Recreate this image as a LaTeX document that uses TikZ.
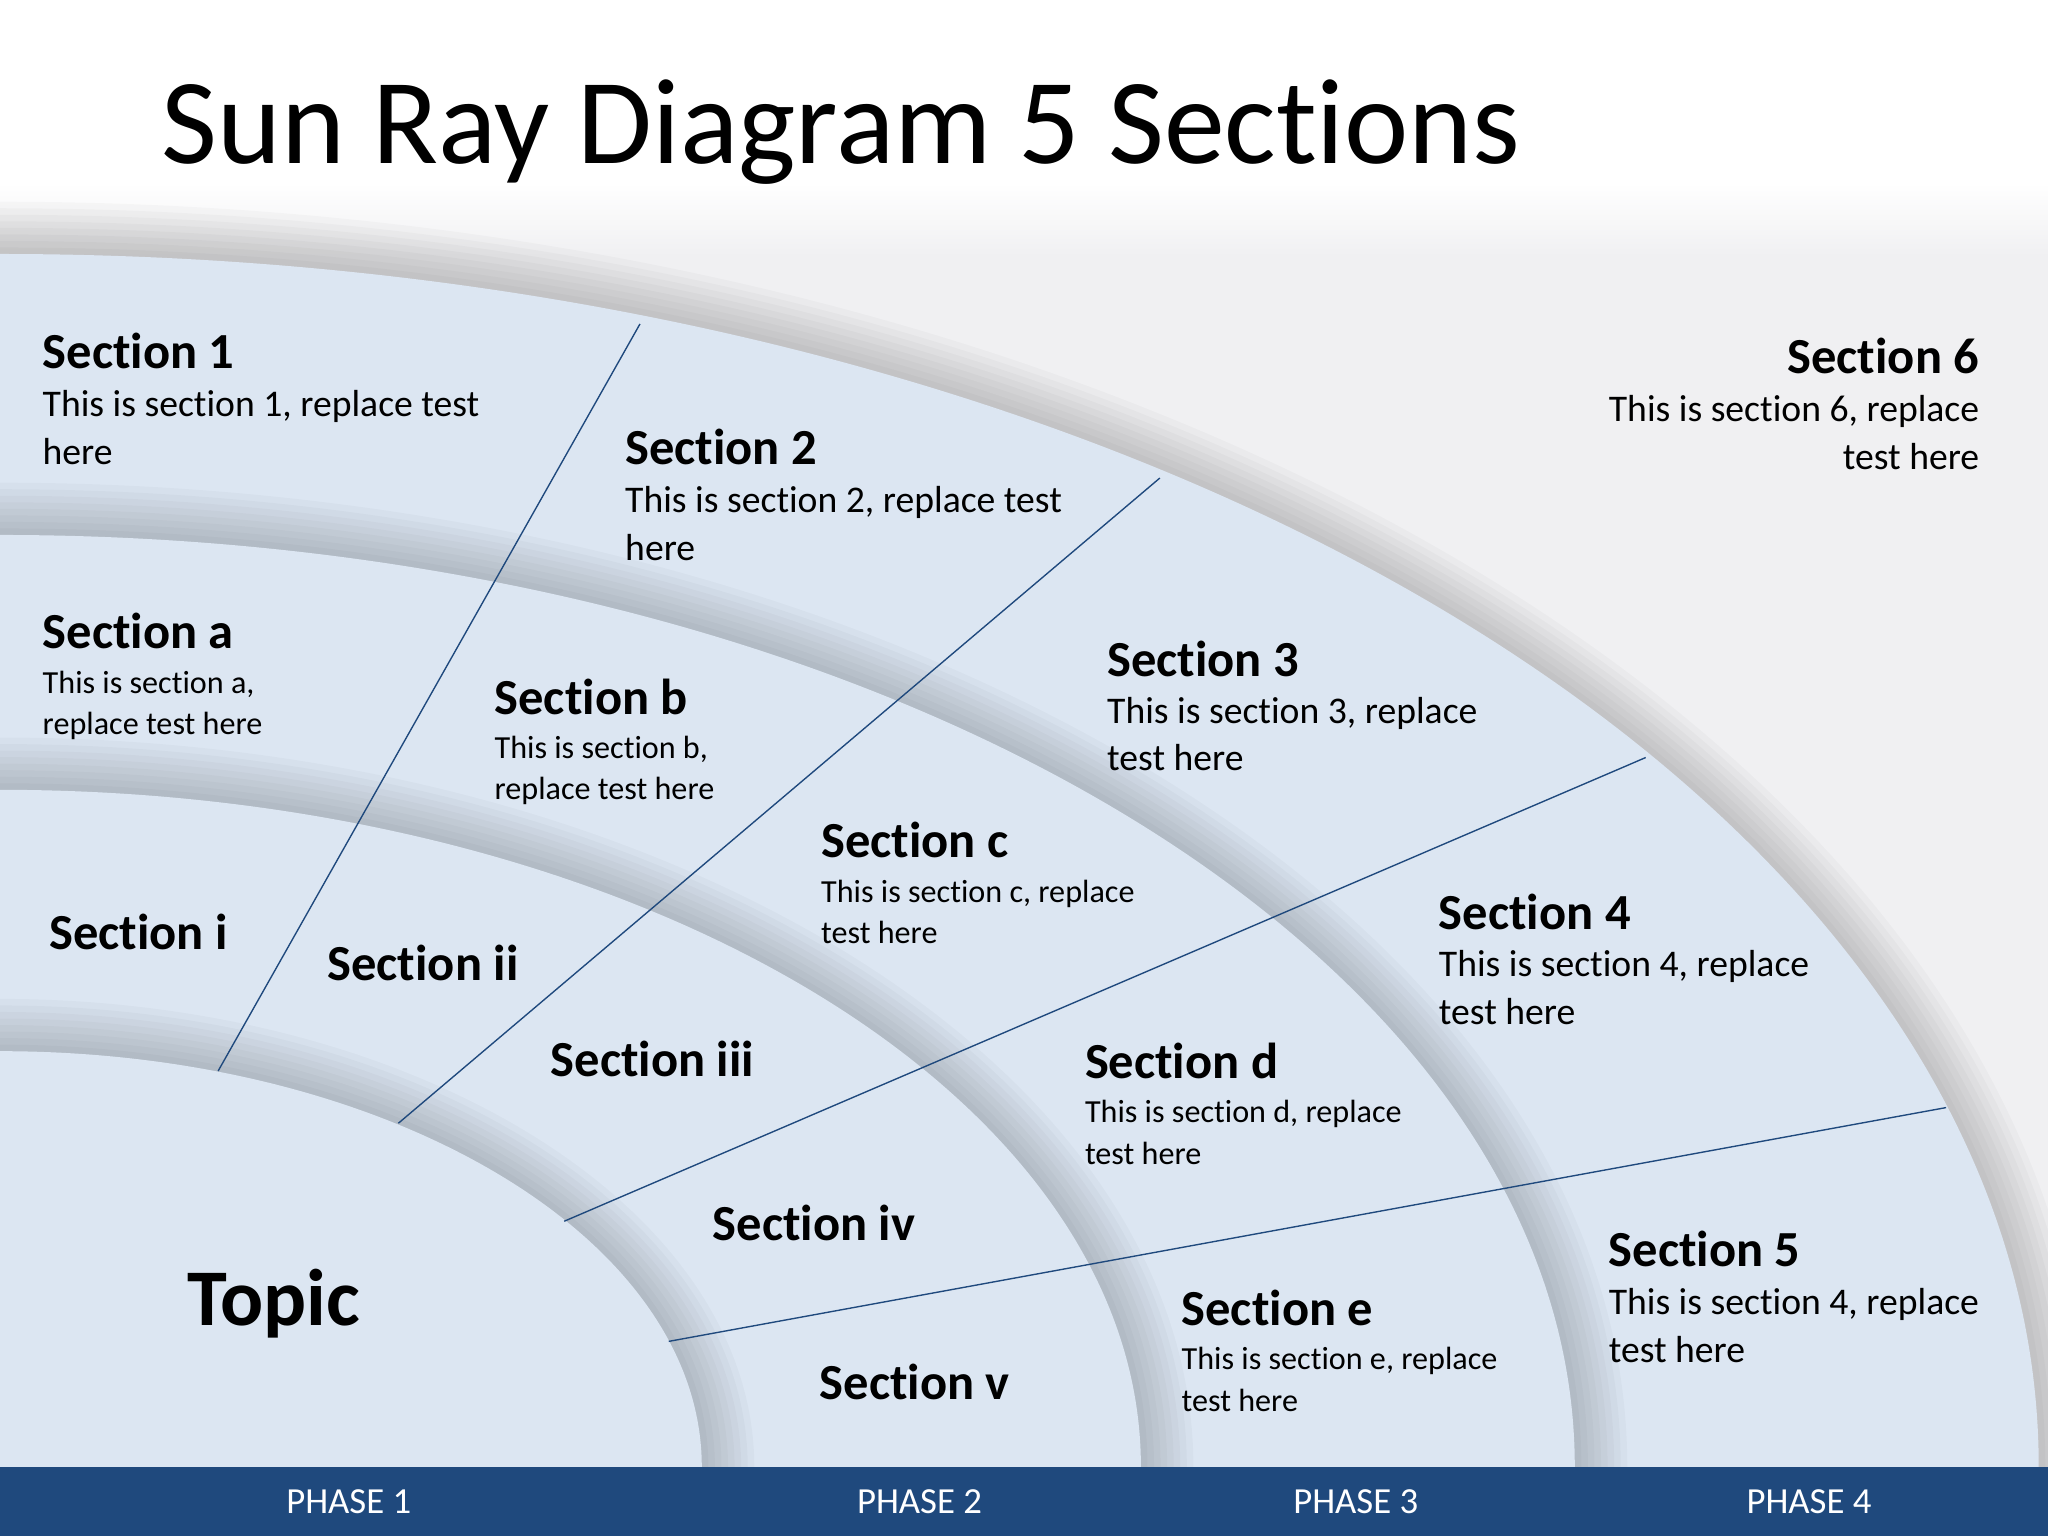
\documentclass[tikz,border=0pt]{standalone}
\usepackage{fontspec}
\setmainfont[Ligatures={NoCommon,NoDiscretionary}]{Carlito}
\definecolor{sec}{RGB}{220,230,242}
\definecolor{bar}{RGB}{31,73,125}
\definecolor{ray}{RGB}{31,73,125}
\definecolor{bg}{RGB}{240,240,242}
\tikzset{
 hd/.style={anchor=north west,inner sep=0pt,align=left,font=\bfseries\fontsize{11}{13}\selectfont},
 bd/.style={anchor=north west,inner sep=0pt,align=left,font=\fontsize{8.2}{10.4}\selectfont},
 sm/.style={anchor=north west,inner sep=0pt,align=left,font=\fontsize{7}{9}\selectfont},
 rl/.style={draw=ray,line width=0.3pt},
 ph/.style={text=white,font=\fontsize{8}{9}\selectfont}
}
\newcommand{\layer}[2]{%
 \foreach \k in {1,...,8}{\fill[black,opacity=0.022] (0.02*\k,1123) ellipse [x radius=#1cm+\k*0.05cm, y radius=#2cm+\k*0.05cm];}
 \fill[sec] (0,1123) ellipse [x radius=#1cm, y radius=#2cm];}
\begin{document}
\begin{tikzpicture}[x=0.01cm,y=-0.01cm]
\useasboundingbox (0,0) rectangle (1568,1176);
\fill[white] (0,0) rectangle (1568,1176);
\fill[bg] (0,195) rectangle (1568,1123);
\shade[top color=white,bottom color=bg] (0,140) rectangle (1568,196);
\begin{scope}
\clip (0,0) rectangle (1568,1123);
\layer{15.6}{9.28}
\layer{12.05}{7.13}
\layer{8.73}{5.18}
\layer{5.37}{3.18}
\end{scope}
\coordinate (a1) at (167,820); \coordinate (b1) at (490,248);
\coordinate (a2) at (305,860); \coordinate (b2) at (888,366);
\coordinate (a3) at (432,935); \coordinate (b3) at (1260,580);
\coordinate (a4) at (512,1027); \coordinate (b4) at (1490,848);
\draw[rl] (a1)--(b1); \draw[rl] (a2)--(b2); \draw[rl] (a3)--(b3); \draw[rl] (a4)--(b4);
\fill[bar] (0,1123) rectangle (1568,1176);
\node[ph] (p1) at (267,1150) {PHASE 1};
\node[ph] (p2) at (704,1150) {PHASE 2};
\node[ph] (p3) at (1038,1150) {PHASE 3};
\node[ph] (p4) at (1385,1150) {PHASE 4};
\node[anchor=base west,inner sep=0pt,font=\fontsize{26.5}{30}\selectfont] (t) at (123,125) {Sun Ray Diagram 5 Sections};
% sections
\node[hd] (s1) at (32,254) {Section 1};
\node[bd] (s1b) at (32,298) {This is section 1, replace test\\here};
\node[hd] (s2) at (478,328) {Section 2};
\node[bd] (s2b) at (478,372) {This is section 2, replace test\\here};
\node[hd] (s3) at (847,490) {Section 3};
\node[bd] (s3b) at (847,533) {This is section 3, replace\\test here};
\node[hd] (s4) at (1101,684) {Section 4};
\node[bd] (s4b) at (1101,727) {This is section 4, replace\\test here};
\node[hd] (s5) at (1231,942) {Section 5};
\node[bd] (s5b) at (1231,986) {This is section 4, replace\\test here};
\node[hd,anchor=north east,align=right] (s6) at (1516,258) {Section 6};
\node[bd,anchor=north east,align=right] (s6b) at (1516,302) {This is section 6, replace\\test here};
\node[hd] (sa) at (32,469) {Section a};
\node[sm] (sab) at (32,513) {This is section a,\\replace test here};
\node[hd] (sb) at (378,519) {Section b};
\node[sm] (sbb) at (378,563) {This is section b,\\replace test here};
\node[hd] (sc) at (628,629) {Section c};
\node[sm] (scb) at (628,673) {This is section c, replace\\test here};
\node[hd] (sd) at (830,798) {Section d};
\node[sm] (sdb) at (830,842) {This is section d, replace\\test here};
\node[hd] (se) at (904,987) {Section e};
\node[sm] (seb) at (904,1031) {This is section e, replace\\test here};
\node[hd] (si) at (37,699) {Section i};
\node[hd] (sii) at (250,723) {Section ii};
\node[hd] (siii) at (421,796) {Section iii};
\node[hd] (siv) at (545,922) {Section iv};
\node[hd] (sv) at (627,1044) {Section v};
\node[anchor=north west,inner sep=0pt,font=\bfseries\fontsize{17.5}{20}\selectfont] (tp) at (143,971) {Topic};
\end{tikzpicture}
\end{document}
